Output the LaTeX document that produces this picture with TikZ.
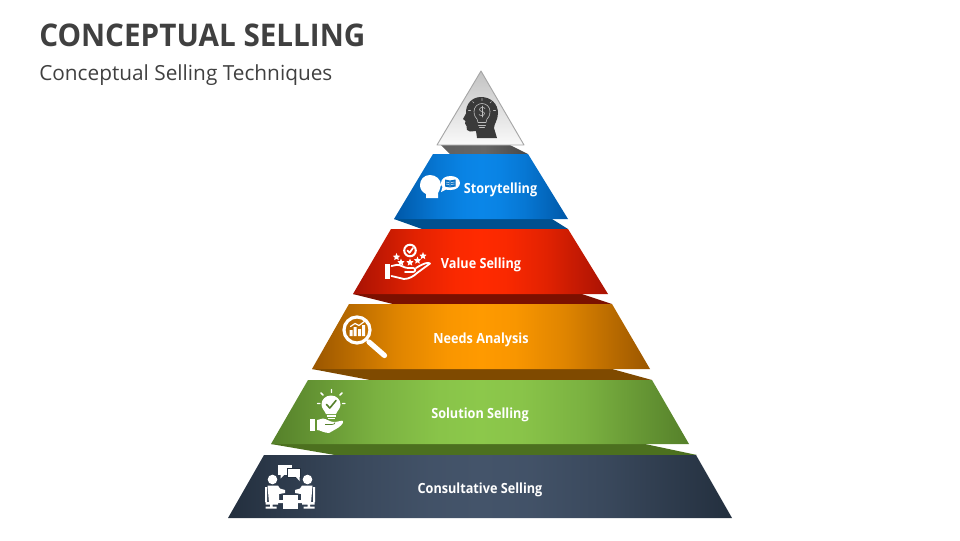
\documentclass[tikz,border=0pt]{standalone}
\usepackage{fontspec}
\setmainfont{Open Sans}
\newfontfamily\lblfont[FakeStretch=0.905]{Open Sans}
\newfontfamily\ttlfont[FakeStretch=0.95]{Open Sans}
\usetikzlibrary{shapes.geometric}
\definecolor{ink}{HTML}{404040}
\definecolor{headc}{HTML}{3A3A3A}
\definecolor{bluem}{HTML}{0A86E8}\definecolor{bluee}{HTML}{0058A8}\definecolor{blues}{HTML}{00508F}
\definecolor{redm}{HTML}{FF2A00}\definecolor{rede}{HTML}{A81204}\definecolor{reds}{HTML}{7B1000}
\definecolor{orm}{HTML}{FF9A00}\definecolor{ore}{HTML}{9A5600}\definecolor{ors}{HTML}{7F4A00}
\definecolor{grm}{HTML}{8CC84B}\definecolor{gre}{HTML}{55802A}\definecolor{grs}{HTML}{4C701F}
\definecolor{nvm}{HTML}{44546A}\definecolor{nve}{HTML}{232F3E}
\newcommand\tiershade[3]{\pgfdeclarehorizontalshading{#1}{100bp}{color(0bp)=(#3); color(25bp)=(#3); color(37.5bp)=(#2!68!#3); color(45bp)=(#2!94!#3); color(50bp)=(#2); color(55bp)=(#2!94!#3); color(62.5bp)=(#2!68!#3); color(75bp)=(#3); color(100bp)=(#3)}}
\tiershade{tierblue}{bluem}{bluee}
\tiershade{tierred}{redm}{rede}
\tiershade{tieror}{orm}{ore}
\tiershade{tiergr}{grm}{gre}
\tiershade{tiernv}{nvm}{nve}
\tikzset{
  lbl/.style={text=white,font=\fontsize{10.5pt}{12pt}\lblfont\bfseries,inner sep=0pt,anchor=center},
  wl/.style={draw=white,line width=1.35pt,line cap=round,line join=round},
  tiny star/.style={star,star points=5,star point ratio=2.2,fill=white,draw=none,inner sep=0pt,minimum size=5.8pt},
}
\begin{document}
\begin{tikzpicture}[x=0.75pt,y=-0.75pt]
\useasboundingbox (0,0) rectangle (960,540);
% title
\node[anchor=base west,inner sep=0pt,text=ink,font=\fontsize{23.4pt}{28pt}\ttlfont\bfseries] (title) at (39,46) {CONCEPTUAL SELLING};
\node[anchor=base west,inner sep=0pt,text=ink,font=\fontsize{15.6pt}{18pt}\selectfont] (sub) at (39,80) {Conceptual Selling Techniques};
% shadow bands
\shade[left color=black!62,right color=black!72,middle color=black!60] (441,145) -- (510,145) -- (528,154) -- (450,154) -- cycle;
\fill[blues] (394,219) -- (552,219) -- (568,229) -- (422,229) -- cycle;
\fill[reds] (353,294) -- (582,294) -- (612,304) -- (393,304) -- cycle;
\fill[ors] (312,369) -- (612,369) -- (652,380) -- (370,380) -- cycle;
\fill[grs] (271,444) -- (645,444) -- (697,455) -- (335,455) -- cycle;
% tiers
\shade[top color=black!24,bottom color=black!2,draw=black!35,line width=0.7pt,line join=round] (481,71) -- (524,145) -- (437,145) -- cycle;
\shade[shading=tierblue] (433,154) -- (528,154) -- (568,219) -- (394,219) -- cycle;
\shade[shading=tierred] (391,229) -- (568,229) -- (608,294) -- (353,294) -- cycle;
\shade[shading=tieror] (349,304) -- (612,304) -- (650,369) -- (312,369) -- cycle;
\shade[shading=tiergr] (308,380) -- (652,380) -- (689,444) -- (271,444) -- cycle;
\shade[shading=tiernv] (264,455) -- (696,455) -- (732,518) -- (228,518) -- cycle;
% labels
\node[lbl] (l1) at (500.5,189.5) {Storytelling};
\node[lbl] (l2) at (481,264.5) {Value Selling};
\node[lbl] (l3) at (481,339.5) {Needs Analysis};
\node[lbl] (l4) at (480,414.5) {Solution Selling};
\node[lbl] (l5) at (480,489.5) {Consultative Selling};
% head icon on apex
\fill[headc] (481,97) .. controls (491,97) and (498,104) .. (498,113)
  .. controls (498,120) and (494,124) .. (494,128) -- (497,138) -- (477,138) -- (476,131)
  -- (470,131.5) .. controls (467,131.5) and (466,129) .. (466.5,126) -- (465,123.5) -- (465.5,121) -- (463,119)
  -- (466,113.5) .. controls (465.5,104) and (472,97) .. (481,97) -- cycle;
\begin{scope}[draw=black!25,line width=0.45pt,line cap=round]
\draw (477,119) .. controls (474,116) and (474,113) .. (474,111.5) .. controls (474,107) and (477.5,103.5) .. (482,103.5)
  .. controls (486.5,103.5) and (490,107) .. (490,111.5) .. controls (490,113) and (490,116) .. (487,119) -- (486,122.5) -- (478,122.5) -- cycle;
\draw (478.5,125) -- (485.5,125) (479.5,127.5) -- (484.5,127.5);
\draw (482,98.5) -- (482,100.5) (472.5,101.5) -- (474,103) (491.5,101.5) -- (490,103) (468.5,110.5) -- (470.5,110.5) (495.5,110.5) -- (493.5,110.5);
\draw (485,108.5) .. controls (484,107) and (479.5,107) .. (479.5,109.5) .. controls (479.5,112) and (484.5,111) .. (484.5,113.5) .. controls (484.5,116) and (480,116) .. (479,114.5);
\draw (482,106) -- (482,117);
\end{scope}
% storytelling icon
\fill[white] (430,175) .. controls (436,175) and (441,179.5) .. (441,185) .. controls (441,187) and (440,188) .. (439.5,190)
  -- (438,193) -- (438,198) -- (426,198) -- (426,194) .. controls (422,192) and (420,189) .. (420,185)
  .. controls (420,179.5) and (424,175) .. (430,175) -- cycle;
\fill[white] (450.5,176) .. controls (456,176) and (460,179) .. (460,183) .. controls (460,187) and (456,190) .. (450.5,190)
  .. controls (448,190) and (447,190) .. (446,189.5) -- (441,192) -- (442.5,187) .. controls (441.5,186) and (441,185) .. (441,183)
  .. controls (441,179) and (445,176) .. (450.5,176) -- cycle;
\fill[bluem!85!black] (445,179.5) -- (450,180.5) -- (455.5,179.5) -- (455.5,186.5) -- (450,187.5) -- (445,186.5) -- cycle;
\draw[white,line width=0.35pt] (450,180.5) -- (450,187.5) (446,182) -- (449,182.5) (446,184) -- (449,184.5) (451,182.5) -- (454.5,182) (451,184.5) -- (454.5,184);
% value selling icon
\draw[white,line width=1.5pt] (410,250.5) circle (5.8);
\draw[white,line width=1.3pt,line cap=round,line join=round] (407.5,250.5) -- (409.5,252.8) -- (413,248);
\node[tiny star] (s1) at (396.5,257) {};
\node[tiny star] (s2) at (401,262.5) {};
\node[tiny star] (s3) at (410,262.5) {};
\node[tiny star] (s4) at (417.5,260.5) {};
\node[tiny star] (s5) at (423,256) {};
\fill[white] (385,263.5) rectangle (389.5,279);
\draw[wl] (391.5,266) -- (397,264.8) .. controls (401,264.8) and (404,268) .. (408,268) -- (413,268) .. controls (416,268) and (416,272) .. (413,272) -- (405,272);
\draw[wl] (391.5,276) -- (404,279) .. controls (409,279) and (414,276) .. (417,273) -- (430,263.5) .. controls (428,262) and (424,263) .. (416,268);
% needs icon
\draw[white,line width=2.4pt] (357,330) circle (13);
\draw[white,line width=3.9pt,line cap=round] (369,342) -- (384.5,355.5);
\fill[white] (349.5,330) rectangle (352.5,336) (353.7,327) rectangle (356.7,336) (358,329) rectangle (361,336) (362.2,325) rectangle (365.2,336);
\draw[white,line width=0.9pt,line cap=round] (350.5,326.5) -- (355,323.5) -- (359,325.5) -- (365,321);
% solution icon
\fill[white] (331,395.5) .. controls (336.5,395.5) and (340.5,399.5) .. (340.5,404.5) .. controls (340.5,408.5) and (337,411) .. (336,414) -- (326,414) .. controls (325,411) and (321.5,408.5) .. (321.5,404.5) .. controls (321.5,399.5) and (325.5,395.5) .. (331,395.5) -- cycle;
\draw[gre,line width=1.2pt,line cap=round,line join=round] (326.5,404.5) -- (329.8,408) -- (336,400.5);
\draw[white,line width=1pt] (326.5,416) -- (335.5,416) (327.5,418.5) -- (334.5,418.5);
\draw[white,line width=1.1pt,line cap=round] (331.5,389.5) -- (331.5,392.5) (321,393) -- (323,395) (342,393) -- (340,395) (317.5,403.5) -- (320,403.5) (345,403.5) -- (342.5,403.5);
\fill[white] (310,418.5) rectangle (315,431);
\fill[white] (317,420) -- (323,418.5) .. controls (327,419) and (330,422) .. (334,422) .. controls (338,422) and (342,420) .. (343,421) .. controls (344,423) and (340,427) .. (336,429) -- (329,433) .. controls (324,433) and (320,430) .. (317,430) -- cycle;
\draw[gre,line width=0.5pt] (325,424.5) -- (332,424.5) .. controls (334,424.5) and (335,423.5) .. (335,422.5);
% consultative icon
\fill[white] (278,465) rectangle (292,475);
\fill[white] (280.5,474) -- (280.5,478.5) -- (285,474) -- cycle;
\draw[nve,line width=0.5pt,fill=white] (287,468.5) rectangle (300.5,477.5);
\fill[white] (296,477) -- (299.5,481) -- (299.5,477) -- cycle;
\fill[white] (272.5,479.5) circle (4.8);
\fill[white] (307.5,479.5) circle (4.8);
\fill[white] (267.5,485.5) -- (278,485.5) -- (280,488.5) -- (285,490) -- (285,493) -- (279,494) -- (279,500) -- (283,500) -- (283,503) -- (269,503) -- cycle;
\fill[white] (312.5,485.5) -- (302,485.5) -- (300,488.5) -- (295,490) -- (295,493) -- (301,494) -- (301,500) -- (297,500) -- (297,503) -- (311,503) -- cycle;
\fill[white] (283,494.5) rectangle (297.5,508.5);
\fill[white] (265,487) rectangle (267,502) (265.5,502) rectangle (278,504.5) (270,504.5) rectangle (272.5,508) (265.5,506.5) rectangle (276.5,508.5);
\fill[white] (313,487) rectangle (315,502) (302,502) rectangle (314.5,504.5) (307.5,504.5) rectangle (310,508) (303.5,506.5) rectangle (314.5,508.5);
\end{tikzpicture}
\end{document}
